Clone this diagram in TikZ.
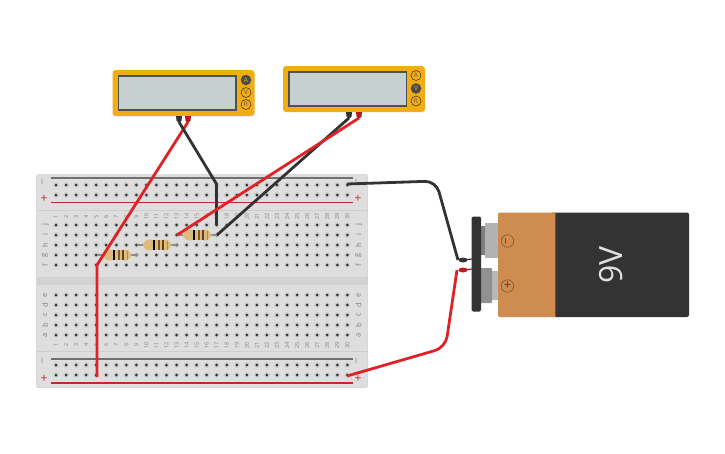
\documentclass[tikz,border=0pt]{standalone}
\usepackage{fontspec}
\setmainfont{Open Sans}
\usetikzlibrary{calc}
\definecolor{board}{HTML}{DEDEDE}
\definecolor{boardedge}{HTML}{CFCFCF}
\definecolor{band}{HTML}{D2D2D2}
\definecolor{hole}{HTML}{333333}
\definecolor{halo}{HTML}{CDCDCD}
\definecolor{railgray}{HTML}{707070}
\definecolor{railred}{HTML}{C02A2A}
\definecolor{meter}{HTML}{F2AC14}
\definecolor{lcd}{HTML}{C7D0D1}
\definecolor{lcdedge}{HTML}{4A5355}
\definecolor{wirered}{HTML}{E02226}
\definecolor{wireblack}{HTML}{333333}
\definecolor{batorange}{HTML}{CE8C50}
\definecolor{batdark}{HTML}{333333}
\definecolor{rbody}{HTML}{DDBB7A}
\tikzset{
  x=1pt,y=-1pt,
  boardlabel/.style={font=\fontsize{5.5}{6}\selectfont,text=black!50,rotate=90,inner sep=0},
  railmark/.style={font=\fontsize{12}{12}\selectfont,inner sep=0},
  meterbody/.style={fill=meter,rounded corners=3},
  lcdscreen/.style={fill=lcd,draw=lcdedge,line width=1.6},
  dial/.style={circle,draw=black!65!meter,line width=.6,fill=meter,minimum size=10,inner sep=0,font=\fontsize{6.5}{6.5}\selectfont,text=black!65},
  dialon/.style={circle,fill=black!70,minimum size=10.5,inner sep=0,font=\fontsize{6.5}{6.5}\selectfont,text=meter},
  wirer/.style={draw=wirered,line width=2.8},
  wireb/.style={draw=wireblack,line width=2.8},
  lead/.style={draw=black!45,line width=1.5},
}
\newcommand{\resistor}[3]{% name, left x, y
  \coordinate (#1L) at (#2,#3);
  \coordinate (#1R) at (#2+40,#3);
  \draw[lead] (#1L) -- (#1R);
  \fill[rbody] (#2+5.5,#3) .. controls (#2+7,#3-3) and (#2+9,#3-6) .. (#2+13,#3-5.5)
     .. controls (#2+15,#3-4.5) and (#2+25,#3-4.5) .. (#2+28,#3-5.5)
     .. controls (#2+31,#3-6) and (#2+33,#3-3) .. (#2+34.5,#3)
     .. controls (#2+33,#3+3) and (#2+31,#3+6) .. (#2+28,#3+5.5)
     .. controls (#2+25,#3+4.5) and (#2+15,#3+4.5) .. (#2+13,#3+5.5)
     .. controls (#2+9,#3+6) and (#2+7,#3+3) .. (#2+5.5,#3) -- cycle;
  \fill[black] (#2+15.5,#3-4.8) rectangle (#2+18,#3+4.8);
  \fill[brown!70!black] (#2+20.5,#3-4.7) rectangle (#2+22.5,#3+4.7);
  \fill[brown!50!black] (#2+25,#3-4.8) rectangle (#2+27,#3+4.8);
  \fill[olive!70!rbody] (#2+30,#3-4.5) rectangle (#2+31.2,#3+4.5);
}
\begin{document}
\begin{tikzpicture}
\useasboundingbox (0,0) rectangle (725,453);
\fill[white] (0,0) rectangle (725,453);

% breadboard
\fill[board,draw=boardedge,line width=.5,rounded corners=1.5] (36.5,174.5) rectangle (367.5,387.5);
\draw[boardedge,line width=.7] (36.5,210) -- (367.5,210);
\draw[boardedge,line width=.7] (36.5,351) -- (367.5,351);
\fill[band] (36.5,277) rectangle (367.5,285);

\draw[railgray,line width=1.1] (51,178) -- (353,178);
\draw[railred,line width=1.1] (51,202.5) -- (353,202.5);
\draw[railgray,line width=1.1] (51,359) -- (353,359);
\draw[railred,line width=1.1] (51,383) -- (353,383);

\node[railmark,rotate=90,text=black!40] (mTL) at (44,182) {−};
\node[railmark,text=railred] (pTL) at (44,199) {+};
\node[railmark,rotate=90,text=black!40] (mTR) at (358,182) {−};
\node[railmark,text=railred] (pTR) at (358,199) {+};
\node[railmark,rotate=90,text=black!40] (mBL) at (44,361) {−};
\node[railmark,text=railred] (pBL) at (44,379) {+};
\node[railmark,rotate=90,text=black!40] (mBR) at (358,361) {−};
\node[railmark,text=railred] (pBR) at (358,379) {+};

\foreach \n in {1,...,30}{
  \pgfmathsetmacro{\hx}{56+(\n-1)*10.045}
  \node[boardlabel] (nt\n) at (\hx,216.5) {\n};
  \node[boardlabel] (nb\n) at (\hx,345) {\n};
  \foreach \hy in {185,195,225,235,245,255,265,295,305,315,325,335,365,375}{
    \fill[halo] (\hx,\hy) circle (2.8);
    \fill[hole] (\hx,\hy) circle (1.5);
  }
}
\foreach \l/\hy in {j/225,i/235,h/245,g/255,f/265,e/295,d/305,c/315,b/325,a/335}{
  \node[boardlabel,font=\fontsize{7.5}{7.5}\selectfont] (ll\l) at (45,\hy) {\l};
  \node[boardlabel,font=\fontsize{7.5}{7.5}\selectfont] (lr\l) at (358.5,\hy) {\l};
}

% resistors
\resistor{ra}{97}{255}
\resistor{rb}{137}{245}
\resistor{rc}{177}{235}

% meters
\fill[meterbody] (112.5,70) rectangle (254.5,116);
\draw[lcdscreen] (118.5,76) rectangle (236,110);
\node[dialon] (a1) at (246,80) {A};
\node[dial] (v1) at (246,92.5) {V};
\node[dial] (r1) at (246,104.5) {R};
\fill[meterbody] (283,66) rectangle (425,112);
\draw[lcdscreen] (289,72) rectangle (406.5,106);
\node[dial] (a2) at (416,75.5) {A};
\node[dialon] (v2) at (416,88.5) {V};
\node[dial] (r2) at (416,101) {R};

% probes
\coordinate (p1b) at (179,122);
\coordinate (p1r) at (188,122);
\coordinate (p2b) at (349,118);
\coordinate (p2r) at (359,118);
\coordinate (jr) at (97,265);
\coordinate (jrEnd) at (97,377);
\coordinate (jb) at (216.5,184);
\coordinate (jbEnd) at (216.5,225);

% wires
\draw[wirer] (p1r) -- (jr) -- (jrEnd);
\draw[wireb] (p1b) -- (jb) -- (jbEnd);
\draw[wireb] (p2b) -- (rcR);
\draw[wirer] (p2r) -- (rcL);

\foreach \c/\col in {p1b/wireblack,p1r/wirered!80!black,p2b/wireblack,p2r/wirered!80!black}{
  \fill[\col] ($(\c)+(-3,-6)$) -- ($(\c)+(3,-6)$) -- ($(\c)+(2.5,-1.5)$) -- ($(\c)+(1,0)$) -- ($(\c)+(-1,0)$) -- ($(\c)+(-2.5,-1.5)$) -- cycle;
}

% battery
\fill[black!30] (485,223) rectangle (498,258);
\fill[black!50] (480,226) rectangle (485,255);
\fill[black!28] (491,271) rectangle (498,300);
\fill[black!43,rounded corners=1] (480,268) rectangle (492,303);
\fill[batdark,rounded corners=1.5] (471.5,216.5) rectangle (481,311.5);
\fill[batdark,rounded corners=2] (551,212.5) rectangle (689,317);
\fill[batorange,rounded corners=2] (555,212.5) -- (498,212.5) -- (498,317) -- (555,317) [sharp corners] -- cycle;
\fill[batorange] (553,212.5) rectangle (555,317);
\draw[black!45!batorange,line width=.6] (555,212.5) -- (555,317);
\node[circle,draw=black!40!batorange,line width=.6,minimum size=12.5,inner sep=0,font=\fontsize{11}{11}\selectfont,text=black!75,rotate=90] (batminus) at (507.5,241) {−};
\node[circle,draw=black!40!batorange,line width=.6,minimum size=12.5,inner sep=0,font=\fontsize{13}{13}\selectfont,text=black!75] (batplus) at (507.5,286) {+};
\node[rotate=90,font=\fontsize{32}{32}\selectfont,text=black!12,inner sep=0] (ninev) at (611,265) {9V};

% battery connectors
\coordinate (cb) at (463,260);
\coordinate (cr) at (463,270);
\coordinate (bs) at (347,184);
\coordinate (rs) at (347,376);
\draw[wireblack,line width=1.2] (cb) -- (472,259);
\draw[wirered!80!black,line width=1.2] (cr) -- (472,269);
\draw[wireb,rounded corners=11] (bs) -- (436,181) -- (458,260);
\draw[wirer,rounded corners=11] (rs) -- (445.5,347.5) -- (457,270);
\fill[wireblack] (cb) ellipse (4.5 and 2.5);
\fill[wirered!85!black] (cr) ellipse (4.5 and 2.5);
\end{tikzpicture}
\end{document}
